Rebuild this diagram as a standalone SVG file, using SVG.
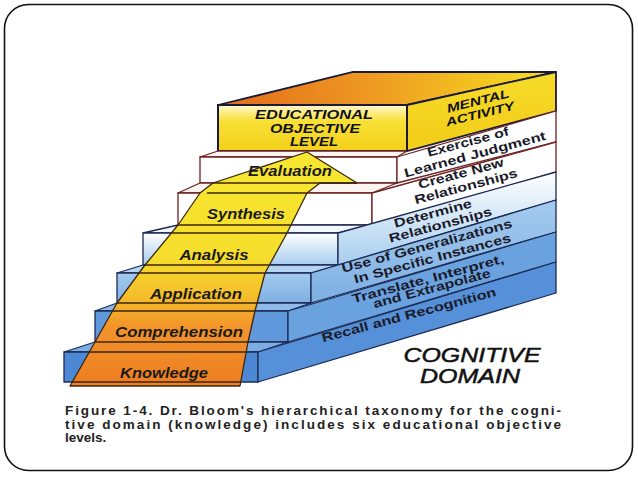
<svg xmlns="http://www.w3.org/2000/svg" width="638" height="479" viewBox="0 0 638 479">
<defs>
<linearGradient id="bandGrad" gradientUnits="userSpaceOnUse" x1="0" y1="386" x2="0" y2="150">
<stop offset="0" stop-color="#EE7E22"/><stop offset="0.25" stop-color="#F2942A"/><stop offset="0.38" stop-color="#F5BE2C"/><stop offset="0.55" stop-color="#F6DE2C"/><stop offset="1" stop-color="#F7E830"/>
</linearGradient>
<linearGradient id="boxTop" gradientUnits="userSpaceOnUse" x1="250" y1="100" x2="520" y2="75">
<stop offset="0" stop-color="#E4741C"/><stop offset="0.45" stop-color="#EE9A22"/><stop offset="1" stop-color="#F6D420"/>
</linearGradient>
<linearGradient id="boxFront" x1="0" y1="0" x2="0" y2="1">
<stop offset="0" stop-color="#FFF8D0"/><stop offset="0.35" stop-color="#F8E036"/><stop offset="1" stop-color="#F3D01A"/>
</linearGradient>
<linearGradient id="boxRight" x1="0" y1="0" x2="0" y2="1">
<stop offset="0" stop-color="#F7DC2A"/><stop offset="1" stop-color="#F2CC18"/>
</linearGradient>
<linearGradient id="lightBlue" x1="0" y1="0" x2="0" y2="1">
<stop offset="0" stop-color="#FFFFFF"/><stop offset="1" stop-color="#A6CDEE"/>
</linearGradient>
<linearGradient id="midBlue" x1="0" y1="0" x2="0" y2="1">
<stop offset="0" stop-color="#A4CAEE"/><stop offset="1" stop-color="#7EB0E4"/>
</linearGradient>
<style>
.wl{stroke:#6E2222;stroke-width:1.3;stroke-linejoin:round}
.bl{stroke:#1C2B55;stroke-width:1.3;stroke-linejoin:round}
.band{stroke:#3A2612;stroke-width:1.3;stroke-linejoin:round}
.lbl{font-family:"Liberation Sans",Arial,sans-serif;font-weight:bold;font-style:italic;font-size:14px;fill:#1a1a1a;text-anchor:middle}
.box{font-family:"Liberation Sans",Arial,sans-serif;font-weight:bold;font-style:italic;font-size:12px;fill:#111;text-anchor:middle}
.side{font-family:"Liberation Sans",Arial,sans-serif;font-weight:bold;font-size:12.5px;fill:#1a1a2a;text-anchor:middle}
.dom{font-family:"Liberation Sans",Arial,sans-serif;font-style:italic;font-size:21px;fill:#111;stroke:#111;stroke-width:0.5;text-anchor:middle}
.cap{font-family:"Liberation Sans",Arial,sans-serif;font-weight:bold;font-size:13.5px;fill:#222}
</style>
</defs>
<rect width="638" height="479" fill="#FFFFFF"/>
<rect x="4.5" y="4.5" width="628" height="466" rx="24" ry="24" fill="none" stroke="#111" stroke-width="1.6"/>

<g id="node-box">
<polygon points="218,105 353,72 556,72 407,105" fill="url(#boxTop)" stroke="#1A1A3A" stroke-width="1.8"/>
<polygon points="407,105 556,72 556,111 407,151" fill="url(#boxRight)" stroke="#1A1A3A" stroke-width="1.8"/>
<rect x="218" y="105" width="189" height="46" fill="url(#boxFront)" stroke="#1A1A3A" stroke-width="2"/>
<text class="box" x="314" y="119" textLength="118" lengthAdjust="spacingAndGlyphs">EDUCATIONAL</text>
<text class="box" x="315" y="132.5" textLength="90" lengthAdjust="spacingAndGlyphs">OBJECTIVE</text>
<text class="box" x="314" y="146" textLength="48" lengthAdjust="spacingAndGlyphs">LEVEL</text>
<g transform="translate(479,105) rotate(-14)"><text class="box" x="0" y="0" textLength="64" lengthAdjust="spacingAndGlyphs">MENTAL</text></g>
<g transform="translate(481,118) rotate(-14)"><text class="box" x="0" y="0" textLength="70" lengthAdjust="spacingAndGlyphs">ACTIVITY</text></g>
</g>

<g id="node-evaluation">
<polygon class="wl" points="200,157 397,157 407,151 218,151" fill="#FBF4F0"/>
<rect class="wl" x="200" y="157" width="197" height="26" fill="#FFFFFF"/>
<polygon class="wl" points="397,157 556,111 556,142 397,183" fill="#FFFFFF"/>
</g>
<g id="node-synthesis">
<polygon class="wl" points="178,193 372,193 397,183 200,183" fill="#FBF4F0"/>
<rect class="wl" x="178" y="193" width="194" height="32" fill="#FFFFFF"/>
<polygon class="wl" points="372,193 556,142 556,172 372,225" fill="#FFFFFF"/>
</g>
<g id="node-analysis">
<polygon class="bl" points="143,233 338,233 372,225 178,225" fill="#F2F8FE"/>
<rect class="bl" x="143" y="233" width="195" height="32" fill="url(#lightBlue)"/>
<polygon class="bl" points="338,233 556,172 556,200 338,265" fill="url(#lightBlue)"/>
</g>
<g id="node-application">
<polygon class="bl" points="117,273 311,273 338,265 143,265" fill="#B4D4F2"/>
<rect class="bl" x="117" y="273" width="194" height="30" fill="url(#midBlue)"/>
<polygon class="bl" points="311,273 556,200 556,232 311,303" fill="url(#midBlue)"/>
</g>
<g id="node-comprehension">
<polygon class="bl" points="95,311 288,311 311,303 117,303" fill="#8DBAE8"/>
<rect class="bl" x="95" y="311" width="193" height="31" fill="#5F99DC"/>
<polygon class="bl" points="288,311 556,232 556,262 288,342" fill="#6AA2E0"/>
</g>
<g id="node-knowledge">
<polygon class="bl" points="64,352 258,352 288,342 95,342" fill="#7AAEE4"/>
<rect class="bl" x="64" y="352" width="194" height="30" fill="#4C88D4"/>
<polygon class="bl" points="258,352 556,262 556,293 258,382" fill="#5590D8"/>
</g>

<g id="connectors">
<path class="band" fill="url(#bandGrad)" d="M70,386 L95,342 L117,303 L145,265 L178,225 L200,193 L213,183 L307,152 L357,183 L320,183 L307,193 L287,233 L265,273 L255,311 L248,342 L240,386 Z"/>
<g class="band" fill="none">
<line x1="72" y1="382" x2="241" y2="382"/>
<line x1="89" y1="352" x2="246" y2="352"/>
<line x1="95" y1="342" x2="248" y2="342"/>
<line x1="112" y1="311" x2="255" y2="311"/>
<line x1="117" y1="303" x2="258" y2="303"/>
<line x1="138" y1="273" x2="265" y2="273"/>
<line x1="145" y1="265" x2="269" y2="265"/>
<line x1="172" y1="233" x2="287" y2="233"/>
<line x1="178" y1="225" x2="291" y2="225"/>
<line x1="207" y1="193" x2="307" y2="193"/>
<line x1="213" y1="183" x2="357" y2="183"/>
</g>
</g>

<g id="labels">
<text class="lbl" x="164" y="378" textLength="88" lengthAdjust="spacingAndGlyphs">Knowledge</text>
<text class="lbl" x="179" y="337" textLength="128" lengthAdjust="spacingAndGlyphs">Comprehension</text>
<text class="lbl" x="196" y="299" textLength="92" lengthAdjust="spacingAndGlyphs">Application</text>
<text class="lbl" x="214" y="260" textLength="69" lengthAdjust="spacingAndGlyphs">Analysis</text>
<text class="lbl" x="246" y="219" textLength="78" lengthAdjust="spacingAndGlyphs">Synthesis</text>
<text class="lbl" x="290" y="176" textLength="84" lengthAdjust="spacingAndGlyphs">Evaluation</text>
</g>

<g id="side-labels">
<g transform="translate(469,146) rotate(-15)"><text class="side" x="0" y="0" textLength="84" lengthAdjust="spacingAndGlyphs">Exercise of</text></g>
<g transform="translate(476,158.5) rotate(-15)"><text class="side" x="0" y="0" textLength="146" lengthAdjust="spacingAndGlyphs">Learned Judgment</text></g>
<g transform="translate(462,177.5) rotate(-15)"><text class="side" x="0" y="0" textLength="88" lengthAdjust="spacingAndGlyphs">Create New</text></g>
<g transform="translate(467,190.5) rotate(-15)"><text class="side" x="0" y="0" textLength="106" lengthAdjust="spacingAndGlyphs">Relationships</text></g>
<g transform="translate(434,217.5) rotate(-15)"><text class="side" x="0" y="0" textLength="80" lengthAdjust="spacingAndGlyphs">Determine</text></g>
<g transform="translate(441.5,229) rotate(-15)"><text class="side" x="0" y="0" textLength="106" lengthAdjust="spacingAndGlyphs">Relationships</text></g>
<g transform="translate(428,250) rotate(-15)"><text class="side" x="0" y="0" textLength="176" lengthAdjust="spacingAndGlyphs">Use of Generalizations</text></g>
<g transform="translate(433.5,262.5) rotate(-15)"><text class="side" x="0" y="0" textLength="162" lengthAdjust="spacingAndGlyphs">In Specific Instances</text></g>
<g transform="translate(429,283) rotate(-15)"><text class="side" x="0" y="0" textLength="157" lengthAdjust="spacingAndGlyphs">Translate, Interpret,</text></g>
<g transform="translate(433,292.5) rotate(-15)"><text class="side" x="0" y="0" textLength="121" lengthAdjust="spacingAndGlyphs">and Extrapolate</text></g>
<g transform="translate(410,319) rotate(-15)"><text class="side" x="0" y="0" textLength="180" lengthAdjust="spacingAndGlyphs">Recall and Recognition</text></g>
</g>

<g id="title">
<text class="dom" x="472" y="362" textLength="137" lengthAdjust="spacingAndGlyphs">COGNITIVE</text>
<text class="dom" x="470" y="383" textLength="100" lengthAdjust="spacingAndGlyphs">DOMAIN</text>
</g>

<g id="caption">
<text class="cap" x="65" y="415" textLength="496" lengthAdjust="spacing">Figure 1-4. Dr. Bloom's hierarchical taxonomy for the cogni-</text>
<text class="cap" x="65" y="428.5" textLength="496" lengthAdjust="spacing">tive domain (knowledge) includes six educational objective</text>
<text class="cap" x="65" y="442">levels.</text>
</g>
</svg>
